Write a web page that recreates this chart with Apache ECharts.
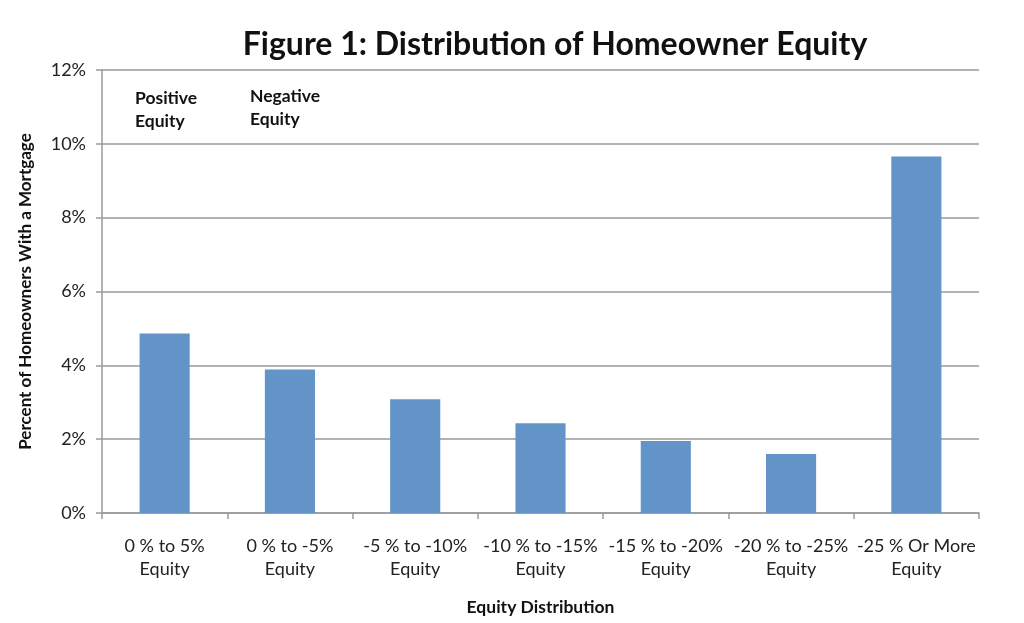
<!DOCTYPE html>
<html>
<head>
<meta charset="utf-8">
<script src="https://cdn.jsdelivr.net/npm/echarts@6/dist/echarts.min.js"></script>
<style>
  html, body { margin: 0; padding: 0; background: #fff; }
  #chart { width: 1024px; height: 623px; }
</style>
</head>
<body>
<div id="chart"></div>
<script>
// data
const categories = [
  '0 % to 5%\nEquity',
  '0 % to -5%\nEquity',
  '-5 % to -10%\nEquity',
  '-10 % to -15%\nEquity',
  '-15 % to -20%\nEquity',
  '-20 % to -25%\nEquity',
  '-25 % Or More\nEquity'
];
const shares = [4.86, 3.89, 3.08, 2.43, 1.95, 1.60, 9.66];
const yTicks = [0, 2, 4, 6, 8, 10, 12];

const FONT = 'Lato';
const gray = '#9a9a9a';

let chart = echarts.init(document.getElementById('chart'));
chart.setOption({
  backgroundColor: '#fff',
  animation: false,
  textStyle: { fontFamily: FONT },
  title: {
    text: 'Figure 1: Distribution of Homeowner Equity',
    left: 550,
    top: 24,
    textAlign: 'center',
    textStyle: { fontFamily: FONT, fontSize: 32, fontWeight: 'bold', color: '#111' }
  },
  grid: { left: 102, right: 45, top: 70, bottom: 110, outerBoundsMode: 'none' },
  xAxis: {
    type: 'category',
    data: categories,
    name: 'Equity Distribution',
    nameLocation: 'middle',
    nameGap: 85,
    nameTextStyle: { fontFamily: FONT, fontSize: 17.5, fontWeight: 'bold', color: '#111' },
    axisLine: { lineStyle: { color: gray, width: 1.5 } },
    axisTick: { show: true, interval: 0, length: 6, lineStyle: { color: gray, width: 1.5 } },
    axisLabel: { interval: 0, fontSize: 18, color: '#222', margin: 22, lineHeight: 23 }
  },
  yAxis: {
    type: 'value',
    min: yTicks[0],
    max: yTicks[yTicks.length - 1],
    interval: 2,
    name: 'Percent of Homeowners With a Mortgage',
    nameLocation: 'middle',
    nameGap: 68,
    nameTextStyle: { fontFamily: FONT, fontSize: 17, fontWeight: 'bold', color: '#111' },
    axisLine: { show: true, lineStyle: { color: gray, width: 1.5 } },
    axisTick: { show: true, length: 6, lineStyle: { color: gray, width: 1.5 } },
    axisLabel: { fontSize: 18, color: '#222', margin: 16, formatter: v => v + '%' },
    splitLine: { lineStyle: { color: gray, width: 1.5 } }
  },
  graphic: [
    {
      type: 'text', left: 135, top: 87,
      style: { text: 'Positive\nEquity', fontFamily: FONT, fontSize: 17.5, fontWeight: 'bold',
               fill: '#111', align: 'center', lineHeight: 23 }
    },
    {
      type: 'text', left: 250, top: 85,
      style: { text: 'Negative\nEquity', fontFamily: FONT, fontSize: 17.5, fontWeight: 'bold',
               fill: '#111', align: 'center', lineHeight: 23 }
    }
  ],
  series: [{
    type: 'bar',
    data: shares,
    barWidth: '40%',
    itemStyle: { color: '#6294c8' }
  }]
});
</script>
</body>
</html>
